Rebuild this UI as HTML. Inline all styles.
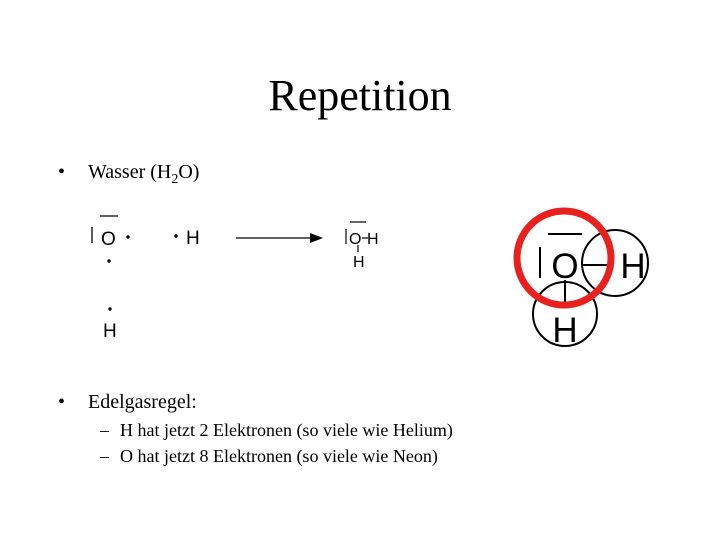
<!DOCTYPE html>
<html><head><style>
body{margin:0;width:720px;height:540px;background:#fff;overflow:hidden;font-family:"Liberation Serif",serif;}
.t{position:absolute;white-space:nowrap;color:#000}
</style></head><body>
<div class="t" style="left:0;width:720px;text-align:center;top:70px;font-size:44px;padding-left:-2px">Repetition</div>
<div class="t" style="left:58px;top:161px;font-size:20px;">•</div>
<div class="t" style="left:88px;top:161px;font-size:20px;">Wasser (H<sub style="font-size:14px">2</sub>O)</div>
<div class="t" style="left:58px;top:391px;font-size:20px;">•</div>
<div class="t" style="left:88px;top:391px;font-size:20px;">Edelgasregel:</div>
<div class="t" style="left:100px;top:420px;font-size:18px;">–</div>
<div class="t" style="left:120px;top:420px;font-size:18px;">H hat jetzt 2 Elektronen (so viele wie Helium)</div>
<div class="t" style="left:100px;top:446px;font-size:18px;">–</div>
<div class="t" style="left:120px;top:446px;font-size:18px;">O hat jetzt 8 Elektronen (so viele wie Neon)</div>
<svg width="720" height="540" style="position:absolute;left:0;top:0" font-family="Liberation Sans, sans-serif">
<g fill="#000" font-size="19">
<line x1="92" y1="227" x2="92" y2="243" stroke="#000" stroke-width="1.3"/>
<line x1="100" y1="216" x2="118" y2="216" stroke="#000" stroke-width="1.3"/>
<text x="101" y="245">O</text>
<circle cx="128" cy="237" r="1.7"/>
<circle cx="109" cy="261" r="1.7"/>
<circle cx="176" cy="236" r="1.7"/>
<text x="186" y="244">H</text>
<circle cx="110" cy="309" r="1.7"/>
<text x="103" y="337">H</text>
<line x1="236" y1="238" x2="312" y2="238" stroke="#000" stroke-width="1.3"/>
<polygon points="323,238 310,233 310,243"/>
<line x1="346" y1="229" x2="346" y2="244" stroke="#000" stroke-width="1.2"/>
<line x1="350" y1="222" x2="366" y2="222" stroke="#000" stroke-width="1.2"/>
<text x="349" y="244" font-size="16">O</text>
<line x1="362" y1="238" x2="368" y2="238" stroke="#000" stroke-width="1.2"/>
<text x="367" y="244" font-size="16">H</text>
<line x1="358" y1="245" x2="358" y2="252" stroke="#000" stroke-width="1.2"/>
<text x="353" y="267" font-size="16">H</text>
</g>
<g fill="none" stroke="#000" stroke-width="2">
<circle cx="615" cy="263" r="33"/>
<circle cx="565" cy="314" r="32"/>
<line x1="582" y1="265" x2="610" y2="265"/>
<line x1="565" y1="280" x2="565" y2="303"/>
<line x1="540" y1="247" x2="540" y2="278"/>
<line x1="548" y1="234" x2="582" y2="234"/>
</g>
<g fill="#000" font-size="35" text-anchor="middle">
<text x="565" y="278">O</text>
<text x="633" y="278">H</text>
<text x="565" y="342">H</text>
</g>
<circle cx="564" cy="258" r="47" fill="none" stroke="#e8201e" stroke-width="7"/>
</svg>
</body></html>
